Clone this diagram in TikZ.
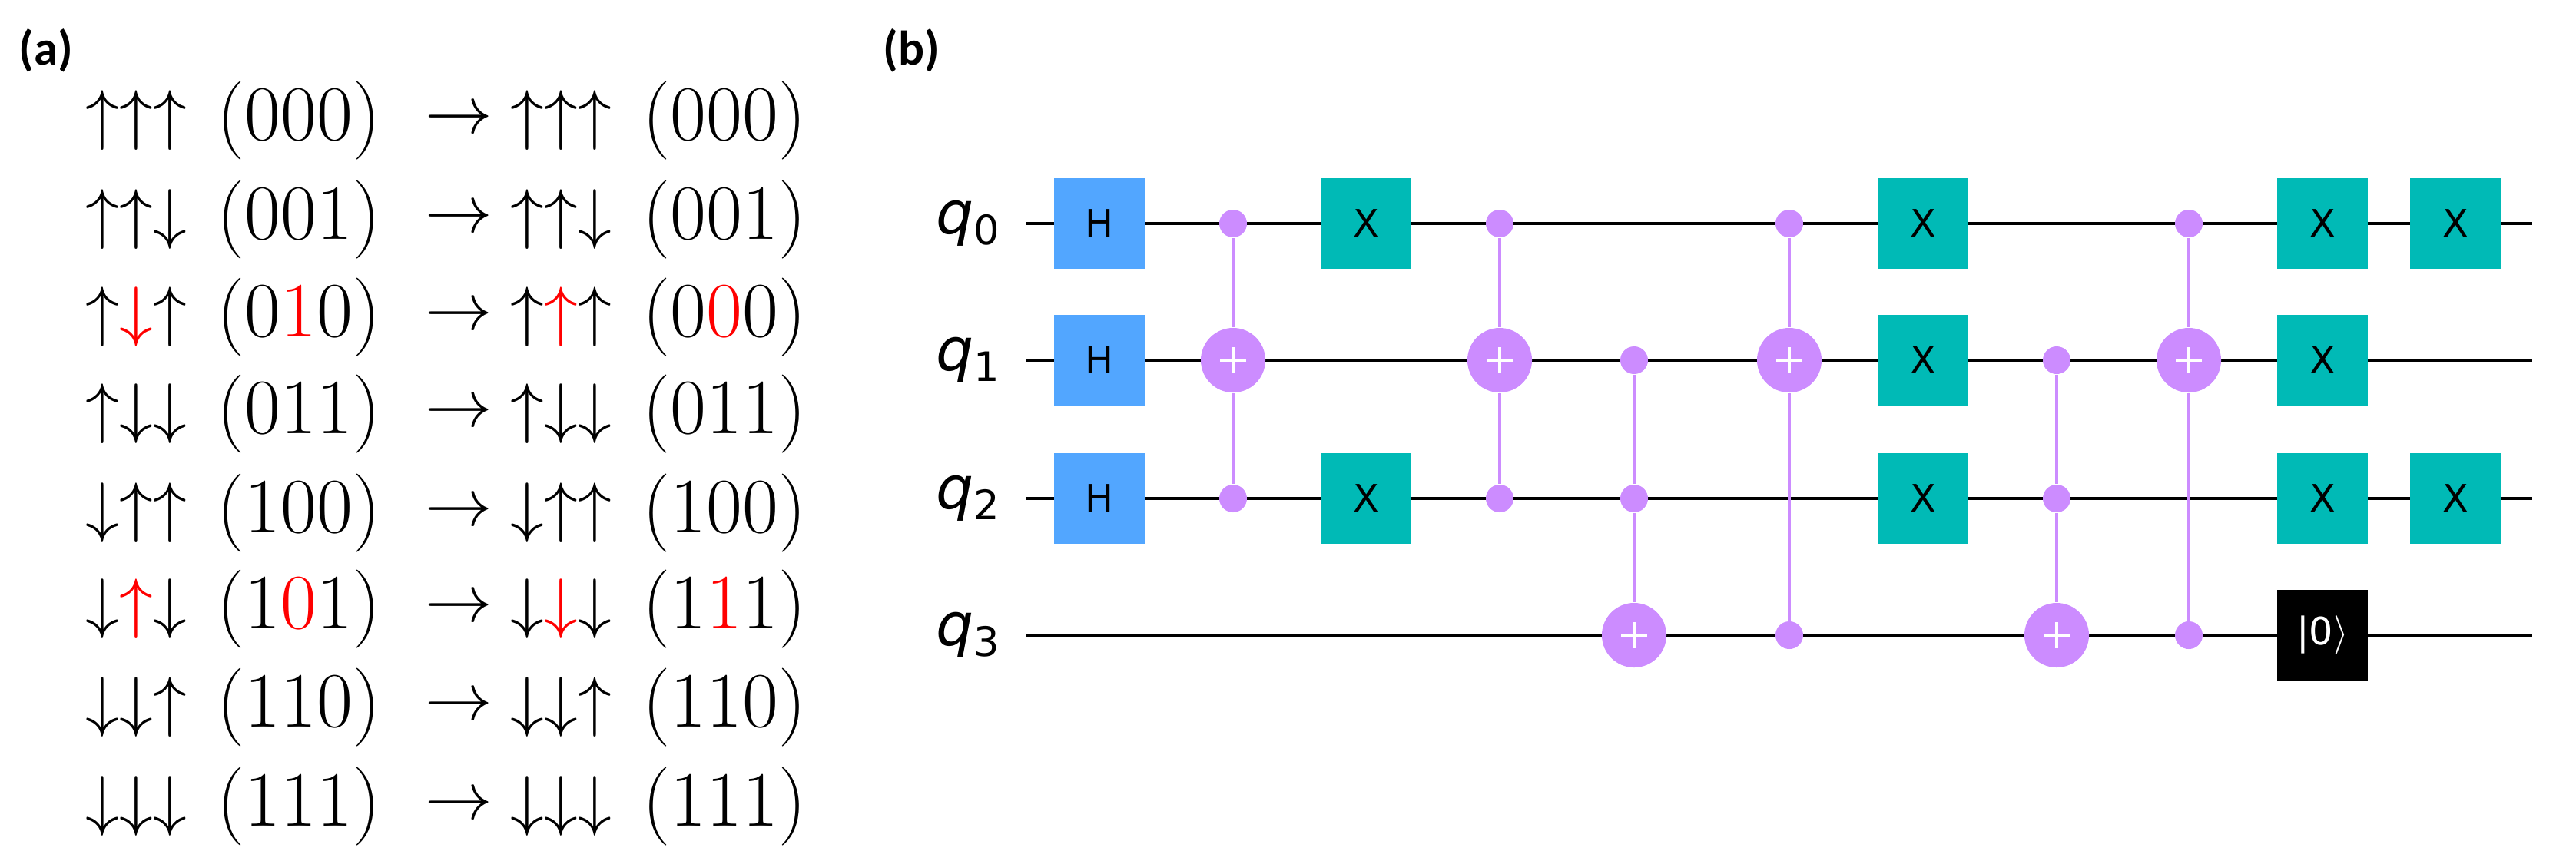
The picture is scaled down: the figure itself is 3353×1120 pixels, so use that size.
\documentclass[tikz,border=0pt]{standalone}
\usepackage{fontspec}
\setmainfont{Latin Modern Roman}
\newfontfamily\dvs{DejaVu Sans}
\newfontfamily\carl{Carlito}
\definecolor{hcol}{HTML}{52A6FF}
\definecolor{xcol}{HTML}{00BAB6}
\definecolor{pcol}{HTML}{CC8CFF}
\newcommand{\Up}{\mathord{\uparrow}}
\newcommand{\Dn}{\mathord{\downarrow}}
\newcommand{\rUp}{\mathord{\color{red}\uparrow}}
\newcommand{\rDn}{\mathord{\color{red}\downarrow}}
\newcommand{\rd}[1]{{\color{red}#1}}
\newcommand{\qlab}[1]{{\itshape q}\raisebox{-0.18em}{\fontsize{15}{17}\selectfont #1}}
\begin{document}
\begin{tikzpicture}[x=0.01cm,y=-0.01cm,
  lbl/.style={font=\carl\bfseries\fontsize{18}{20}\selectfont,inner sep=0},
  arr/.style={font=\fontsize{25}{30}\selectfont,inner sep=0,anchor=west},
  row/.style={font=\fontsize{29}{32}\selectfont,inner sep=0,anchor=west},
  wire/.style={line width=0.045cm,draw=black},
  gate/.style={minimum size=1.18cm,inner sep=0,font=\dvs\fontsize{14}{16}\selectfont},
  hg/.style={gate,fill=hcol},
  xg/.style={gate,fill=xcol},
  rg/.style={gate,fill=black,text=white},
  ctl/.style={circle,fill=pcol,minimum size=0.36cm,inner sep=0},
  tgt/.style={circle,fill=pcol,minimum size=0.84cm,inner sep=0,path picture={
     \draw[white,line width=0.045cm] ([xshift=-0.17cm]path picture bounding box.center)--([xshift=0.17cm]path picture bounding box.center)
       ([yshift=-0.17cm]path picture bounding box.center)--([yshift=0.17cm]path picture bounding box.center);}},
  vline/.style={draw=pcol,line width=0.035cm},
  ql/.style={font=\dvs\fontsize{22}{24}\selectfont,inner sep=0,anchor=east}]
\useasboundingbox (0,0) rectangle (3353,1120);
\node[lbl] (la) at (60,66) {(a)};
\node[lbl] (lb) at (1186,66) {(b)};
% left panel
\newcommand{\rw}[6]{%
 \node[arr] (a#1) at (111,#2) {$#3$};
 \node[row] (b#1) at (282,#2) {#4};
 \node[arr,anchor=center] (c#1) at (597,#2) {$\rightarrow$};
 \node[arr] (d#1) at (664,#2) {$#5$};
 \node[row] (e#1) at (836,#2) {#6};}
\rw{1}{157}{\Up\Up\Up}{(000)}{\Up\Up\Up}{(000)}
\rw{2}{286}{\Up\Up\Dn}{(001)}{\Up\Up\Dn}{(001)}
\rw{3}{413}{\Up\rDn\Up}{(0\rd{1}0)}{\Up\rUp\Up}{(0\rd{0}0)}
\rw{4}{539}{\Up\Dn\Dn}{(011)}{\Up\Dn\Dn}{(011)}
\rw{5}{668}{\Dn\Up\Up}{(100)}{\Dn\Up\Up}{(100)}
\rw{6}{793}{\Dn\rUp\Dn}{(1\rd{0}1)}{\Dn\rDn\Dn}{(1\rd{1}1)}
\rw{7}{921}{\Dn\Dn\Up}{(110)}{\Dn\Dn\Up}{(110)}
\rw{8}{1050}{\Dn\Dn\Dn}{(111)}{\Dn\Dn\Dn}{(111)}
% wires
\foreach \i/\y in {0/291,1/469,2/649,3/827}{
  \node[ql] (q\i) at (1302,\y) {\qlab{\i}};
  \coordinate (ws\i) at (1336,\y);
  \coordinate (we\i) at (3296,\y);
  \draw[wire] (ws\i) -- (we\i);
}
% H
\foreach \i/\y in {0/291,1/469,2/649}{\node[hg] (h\i) at (1431,\y) {H};}
% CNOT 1
\node[ctl] (c1a) at (1605,291) {}; \node[tgt] (c1t) at (1605,469) {}; \node[ctl] (c1b) at (1605,649) {};
\draw[vline] (c1a) -- (c1t); \draw[vline] (c1t) -- (c1b);
\node[xg] (x1a) at (1778,291) {X}; \node[xg] (x1b) at (1778,649) {X};
% CNOT 2
\node[ctl] (c2a) at (1952,291) {}; \node[tgt] (c2t) at (1952,469) {}; \node[ctl] (c2b) at (1952,649) {};
\draw[vline] (c2a) -- (c2t); \draw[vline] (c2t) -- (c2b);
% Toffoli 1
\node[ctl] (t1a) at (2127,469) {}; \node[ctl] (t1b) at (2127,649) {}; \node[tgt] (t1t) at (2127,827) {};
\draw[vline] (t1a) -- (t1b); \draw[vline] (t1b) -- (t1t);
% CNOT 3
\node[ctl] (c3a) at (2329,291) {}; \node[tgt] (c3t) at (2329,469) {}; \node[ctl] (c3b) at (2329,827) {};
\draw[vline] (c3a) -- (c3t); \draw[vline] (c3t) -- (c3b);
\node[xg] (x2a) at (2503,291) {X}; \node[xg] (x2b) at (2503,469) {X}; \node[xg] (x2c) at (2503,649) {X};
% Toffoli 2
\node[ctl] (t2a) at (2677,469) {}; \node[ctl] (t2b) at (2677,649) {}; \node[tgt] (t2t) at (2677,827) {};
\draw[vline] (t2a) -- (t2b); \draw[vline] (t2b) -- (t2t);
% CNOT 4
\node[ctl] (c4a) at (2849,291) {}; \node[tgt] (c4t) at (2849,469) {}; \node[ctl] (c4b) at (2849,827) {};
\draw[vline] (c4a) -- (c4t); \draw[vline] (c4t) -- (c4b);
\node[xg] (x3a) at (3023,291) {X}; \node[xg] (x3b) at (3023,469) {X}; \node[xg] (x3c) at (3023,649) {X};
\node[rg] (r0) at (3023,827) {|0\(\rangle\)};
\node[xg] (x4a) at (3196,291) {X}; \node[xg] (x4c) at (3196,649) {X};
\end{tikzpicture}
\end{document}
